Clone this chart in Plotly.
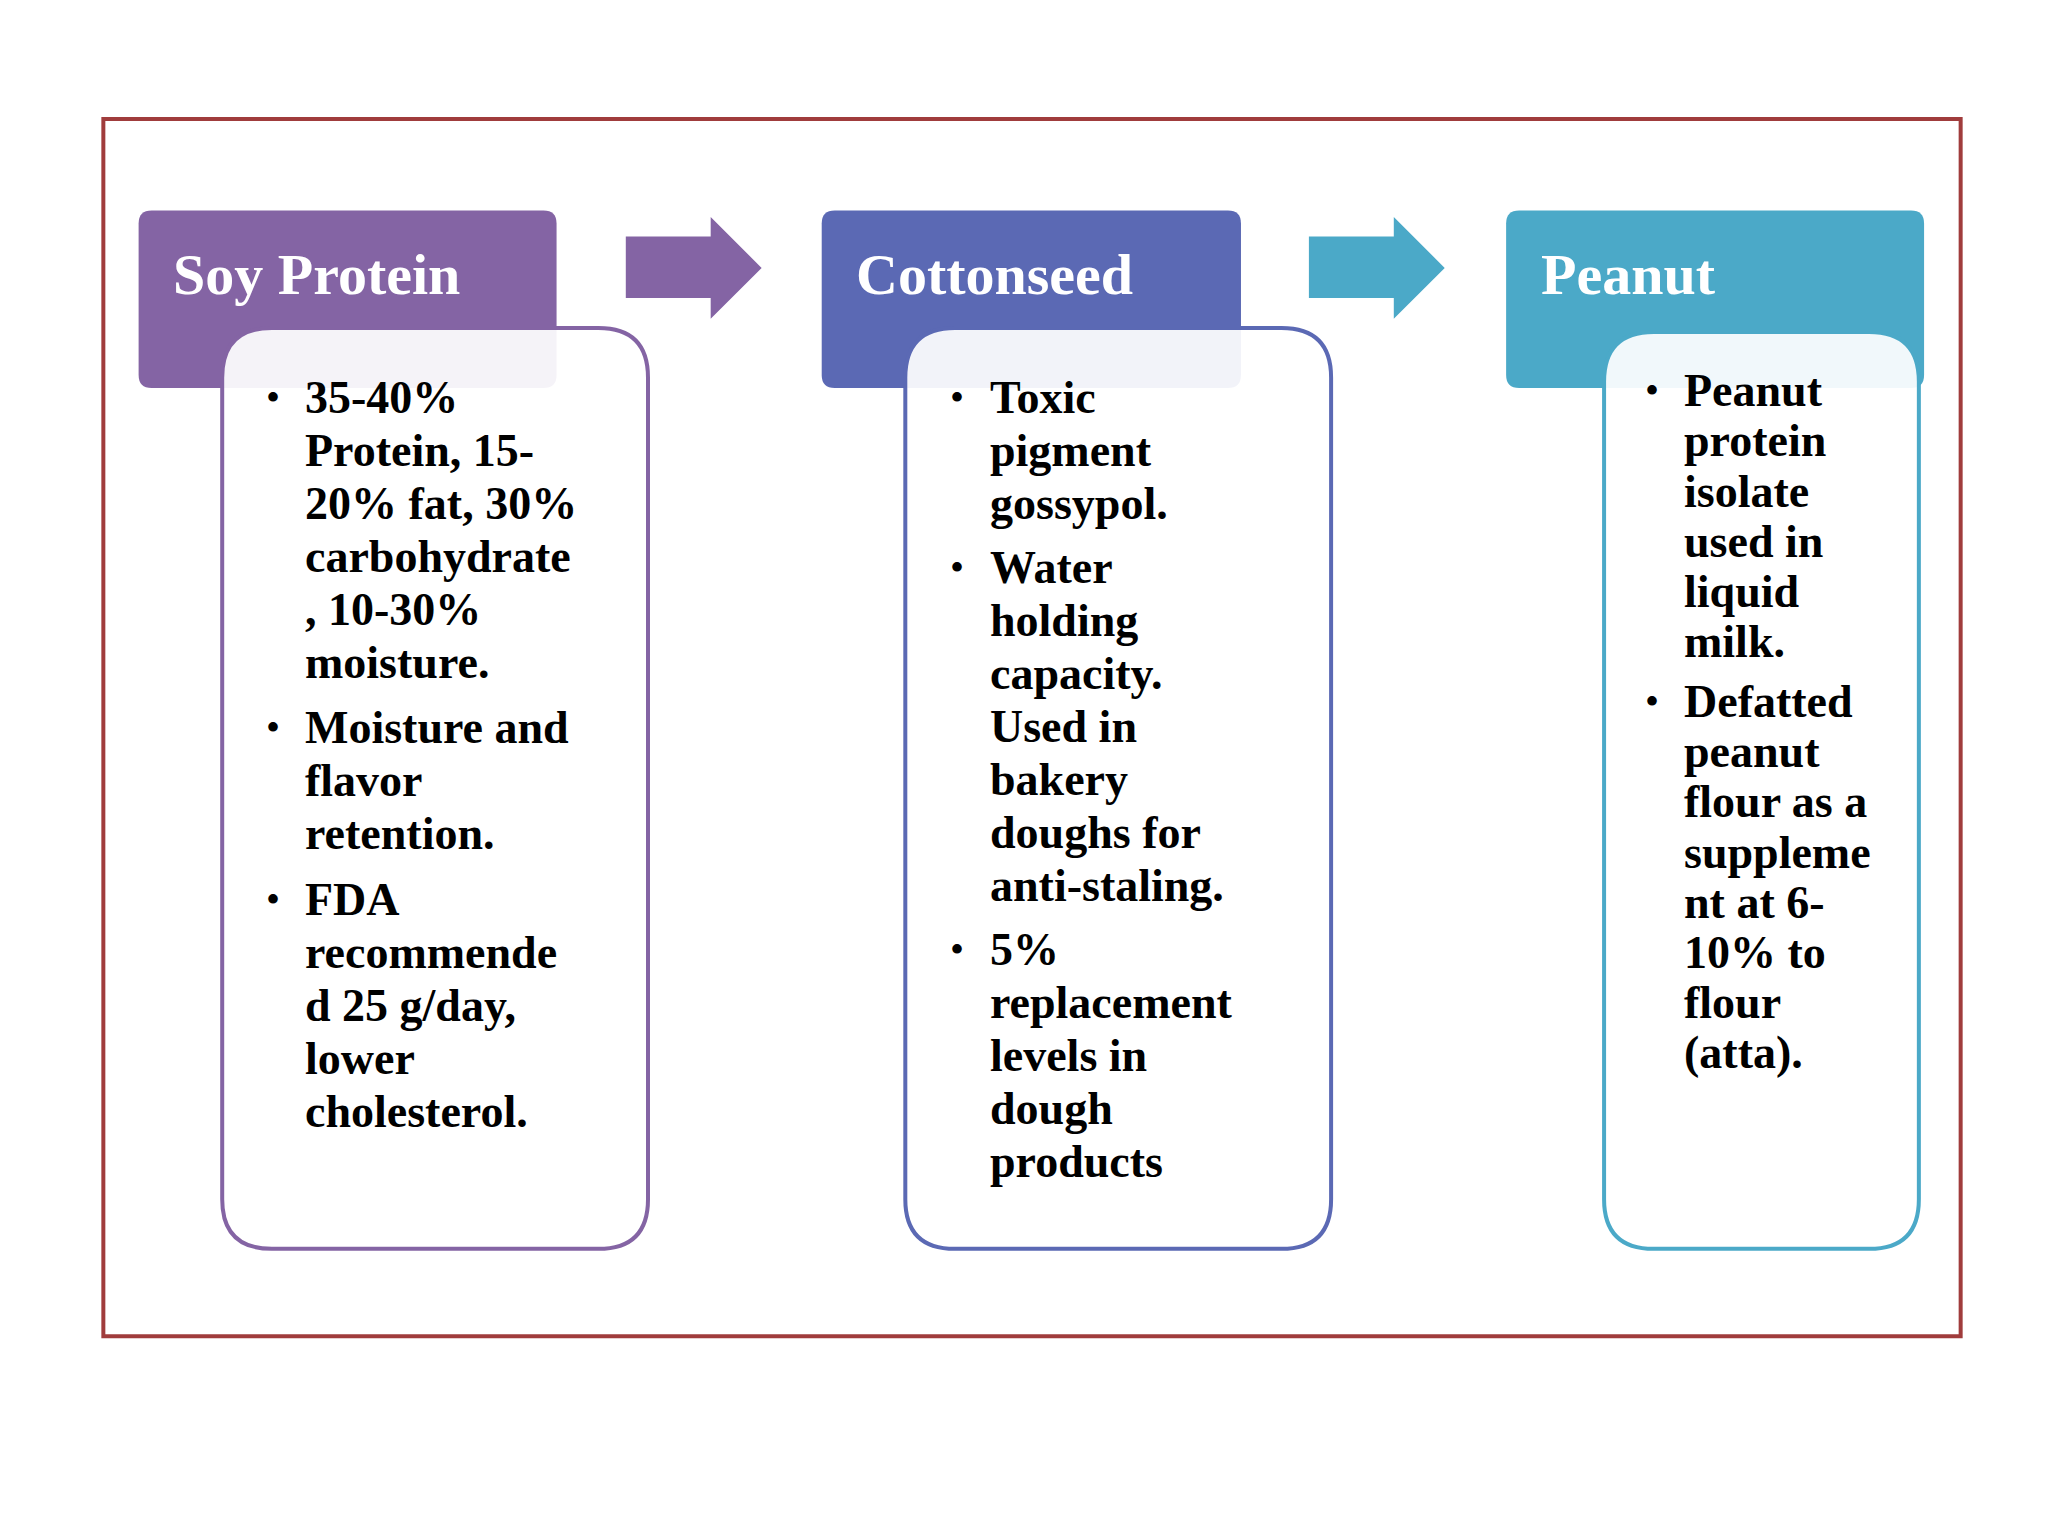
import plotly.graph_objects as go

titles = ["Soy Protein", "Cottonseed", "Peanut"]
colors = ["#8464A4", "#5B69B4", "#4BA9C8"]
items = [
    [["35-40%", "Protein, 15-", "20% fat, 30%", "carbohydrate", ", 10-30%", "moisture."],
     ["Moisture and", "flavor", "retention."],
     ["FDA", "recommende", "d 25 g/day,", "lower", "cholesterol."]],
    [["Toxic", "pigment", "gossypol."],
     ["Water", "holding", "capacity.", "Used in", "bakery", "doughs for", "anti-staling."],
     ["5%", "replacement", "levels in", "dough", "products"]],
    [["Peanut", "protein", "isolate", "used in", "liquid", "milk."],
     ["Defatted", "peanut", "flour as a", "suppleme", "nt at 6-", "10% to", "flour", "(atta)."]],
]

# layout geometry (image pixels at 1568 x 1176)
W, H = 1568, 1176
heads = [(100, 420), (623, 944), (1147, 1467)]
bodies = [(164, 490, 245), (687, 1013, 245), (1222, 1463, 248)]
text_x = [226, 750, 1282]
starts = [298, 298, 293]
steps = [40.6, 40.6, 38.4]
gaps = [50, 49, 46]
arrows = [(473, colors[0]), (996, colors[2])]


def rrect(x0, y0, x1, y1, r):
    return (f"M{x0+r},{y0} L{x1-r},{y0} Q{x1},{y0} {x1},{y0+r} L{x1},{y1-r} "
            f"Q{x1},{y1} {x1-r},{y1} L{x0+r},{y1} Q{x0},{y1} {x0},{y1-r} "
            f"L{x0},{y0+r} Q{x0},{y0} {x0+r},{y0} Z")


shapes = [dict(type="rect", x0=73, y0=85, x1=1495, y1=1017,
               line=dict(color="#A03C3C", width=4), fillcolor="rgba(0,0,0,0)")]
ann = []
for i, t in enumerate(titles):
    hx0, hx1 = heads[i]
    shapes.append(dict(type="path", path=rrect(hx0, 155, hx1, 291, 10),
                       fillcolor=colors[i], line=dict(width=0)))
    bx0, bx1, by0 = bodies[i]
    shapes.append(dict(type="path", path=rrect(bx0, by0, bx1, 950, 38),
                       fillcolor="rgba(255,255,255,0.92)",
                       line=dict(color=colors[i], width=4)))
    ann.append(dict(x=hx0 + 25, y=204, text=t, xanchor="left", yanchor="middle",
                    showarrow=False, font=dict(size=58, color="white",
                                               family="Liberation Serif", weight="bold")))
    y = starts[i]
    for item in items[i]:
        ann.append(dict(x=text_x[i] - 30, y=y, text="•", xanchor="left", yanchor="middle",
                        showarrow=False, font=dict(size=40, color="black", family="Liberation Serif")))
        for line in item:
            ann.append(dict(x=text_x[i], y=y, text=line, xanchor="left", yanchor="middle",
                            showarrow=False, font=dict(size=46, color="black",
                                                       family="Liberation Serif", weight="bold")))
            y += steps[i]
        y += gaps[i] - steps[i]

for ax, c in arrows:
    p = (f"M{ax},175 L{ax+65},175 L{ax+65},160 L{ax+104},199 L{ax+65},238 "
         f"L{ax+65},222 L{ax},222 Z")
    shapes.append(dict(type="path", path=p, fillcolor=c, line=dict(width=0)))

fig = go.Figure()
fig.update_layout(
    width=2048, height=1536, margin=dict(l=0, r=0, t=0, b=0),
    plot_bgcolor="white", paper_bgcolor="white",
    xaxis=dict(range=[0, W], visible=False, fixedrange=True),
    yaxis=dict(range=[H, 0], visible=False, fixedrange=True),
    shapes=shapes, annotations=ann, showlegend=False,
)
fig.write_html("out.html")
